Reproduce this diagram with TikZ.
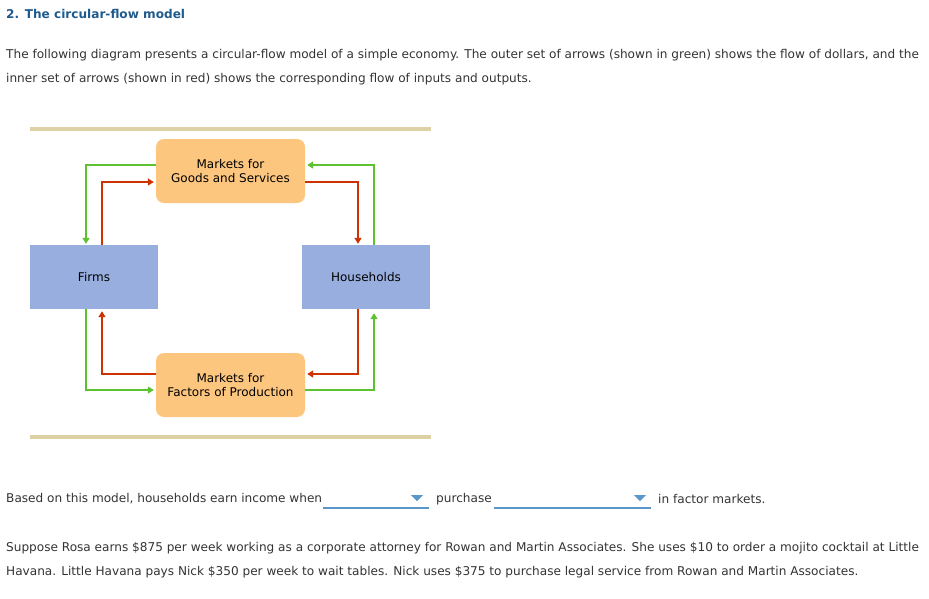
\documentclass[tikz,border=0pt]{standalone}
\usepackage{fontspec}
\setmainfont{DejaVu Sans}
\usetikzlibrary{arrows.meta,positioning,calc}
\definecolor{boxorange}{HTML}{FDC67F}
\definecolor{boxblue}{HTML}{98AEDE}
\definecolor{flowgreen}{HTML}{5CC22F}
\definecolor{flowred}{HTML}{CC3300}
\definecolor{rulebar}{HTML}{DCD0A4}
\definecolor{titleblue}{HTML}{1F5A8C}
\definecolor{dropblue}{HTML}{5A96C8}
\tikzset{
  >={Triangle[length=6pt,width=7pt]},
  mkt/.style ={draw=none, fill=boxorange, rounded corners=8pt, minimum width=149pt, minimum height=64pt, align=center, font=\fontsize{12}{14}\selectfont},
  agent/.style={fill=boxblue, minimum width=128pt, minimum height=64pt, font=\fontsize{12}{14}\selectfont},
  money/.style={draw=flowgreen, line width=1.8pt, ->, color=flowgreen},
  goods/.style={draw=flowred, line width=1.8pt, ->, color=flowred},
  txt/.style  ={anchor=west, inner sep=0pt, font=\fontsize{12.1}{14}\selectfont, text=black!80}
}
\begin{document}
\begin{tikzpicture}[x=1pt,y=-1pt]
\useasboundingbox (0,0) rectangle (929,598);
% text above the diagram
\node[txt, font=\bfseries\fontsize{12.1}{14}\selectfont, text=titleblue] (title) at (6,14) {2. The circular-flow model};
\node[txt] (intro1) at (6,55) {The following diagram presents a circular-flow model of a simple economy. The outer set of arrows (shown in green) shows the flow of dollars, and the};
\node[txt] (intro2) at (6,79) {inner set of arrows (shown in red) shows the corresponding flow of inputs and outputs.};
% bars
\fill[rulebar] (30,127) rectangle (431,131);
\fill[rulebar] (30,435) rectangle (431,439);
% boxes
\node[mkt] (gsm) at (230.5,171) {Markets for\\Goods and Services};
\node[mkt] (fpm) at (230.5,385) {Markets for\\Factors of Production};
\node[agent] (firms) at (94,277) {Firms};
\node[agent] (hh) at (366,277) {Households};
% flows around the goods market
\draw[money] ($(gsm.west)+(0,-6)$) -| ($(firms.north)+(-8,-1)$);
\draw[goods] ($(firms.north)+(8,0)$) |- ($(gsm.west)+(-2,11)$);
\draw[goods] ($(gsm.east)+(0,11)$) -| ($(hh.north)+(-8,-1)$);
\draw[money] ($(hh.north)+(8,0)$) |- ($(gsm.east)+(2,-6)$);
% flows around the factor market
\draw[goods] ($(hh.south)+(-8,0)$) |- ($(fpm.east)+(2,-11)$);
\draw[money] ($(fpm.east)+(0,5)$) -| ($(hh.south)+(8,4)$);
\draw[goods] ($(fpm.west)+(0,-11)$) -| ($(firms.south)+(8,2)$);
\draw[money] ($(firms.south)+(-8,0)$) |- ($(fpm.west)+(-2,5)$);
% question
\node[txt] (ask1) at (6,499) {Based on this model, households earn income when};
\draw[dropblue, line width=1.2pt] (323,508) -- (429,508);
\fill[dropblue] (411,495) -- (423,495) -- (417,501) -- cycle;
\node[txt] (ask2) at (436,499) {purchase};
\draw[dropblue, line width=1.2pt] (494,508) -- (651,508);
\fill[dropblue] (634,495) -- (646,495) -- (640,501) -- cycle;
\node[txt] (ask3) at (658,499) {in factor markets.};
\node[txt] (story1) at (6,548) {Suppose Rosa earns \$875 per week working as a corporate attorney for Rowan and Martin Associates. She uses \$10 to order a mojito cocktail at Little};
\node[txt] (story2) at (6,572) {Havana. Little Havana pays Nick \$350 per week to wait tables. Nick uses \$375 to purchase legal service from Rowan and Martin Associates.};
\end{tikzpicture}
\end{document}
